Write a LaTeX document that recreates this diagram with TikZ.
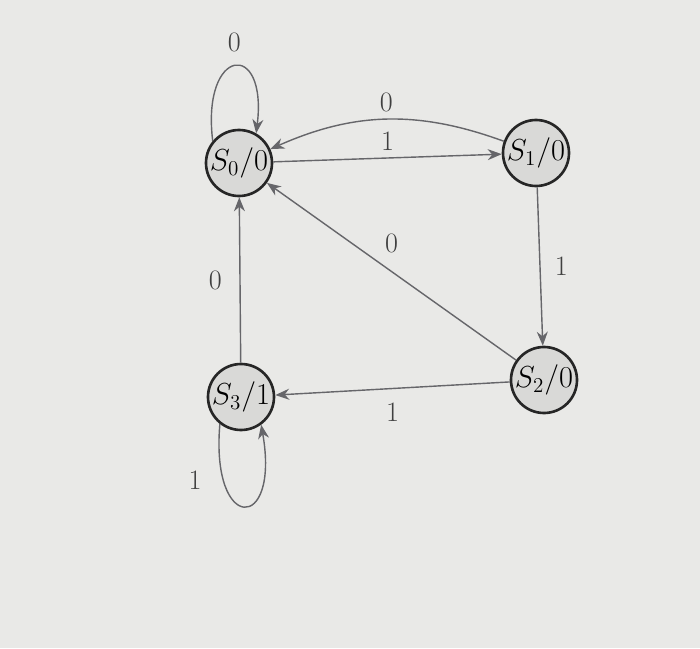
\documentclass[tikz,border=0pt]{standalone}
\usepackage{tikz}
\usetikzlibrary{positioning}
\usetikzlibrary {arrows.meta}
\definecolor{paper}{HTML}{E9E9E7}
\definecolor{statefill}{HTML}{D9D9D7}
\definecolor{wire}{HTML}{66666A}
\tikzset{fsmstate/.style={circle,draw=black!85,fill=statefill,line width=1.5pt,
inner sep=0pt,minimum size=13.2mm,font=\fontsize{17}{20}\selectfont}}
\tikzset{fsmedge/.style={draw=wire,line width=0.8pt,
-{Stealth[length=2.8mm,width=2.2mm]}}}
\tikzset{fsmlabel/.style={font=\fontsize{16}{18}\selectfont,text=black!75,inner sep=2pt}}

\begin{document}
\begin{tikzpicture}

        \fill[paper] (0,0) rectangle (14,-12.96);
        \useasboundingbox (0,0) rectangle (14,-12.96);

        \node[fsmstate] (s0) at (4.78,-3.26) {$S_0/0$};
        \node[fsmstate] (s1) at (10.72,-3.06) {$S_1/0$};
        \node[fsmstate] (s2) at (10.88,-7.60) {$S_2/0$};
        \node[fsmstate] (s3) at (4.82,-7.94) {$S_3/1$};

        \draw [fsmedge] (s0.140) .. controls +(97:1.9) and +(83:1.9) .. node[fsmlabel, above=6pt] {0} (s0.60);
        \draw [fsmedge] (s1) to[bend right=22] node[fsmlabel, above=2pt] {0} (s0);
        \draw [fsmedge] (s0) -- node[fsmlabel, above=2pt] {1} (s1);
        \draw [fsmedge] (s1) -- node[fsmlabel, right=6pt] {1} (s2);
        \draw [fsmedge] (s2) -- node[fsmlabel, above=8pt] {0} (s0);
        \draw [fsmedge] (s2) -- node[fsmlabel, below=6pt] {1} (s3);
        \draw [fsmedge] (s3) -- node[fsmlabel, left=8pt] {0} (s0);
        \draw [fsmedge] (s3.232) .. controls +(-95:2.2) and +(-80:2.2) .. node[fsmlabel, left=10pt, pos=0.22] {1} (s3.-54);

    \end{tikzpicture}
\end{document}
